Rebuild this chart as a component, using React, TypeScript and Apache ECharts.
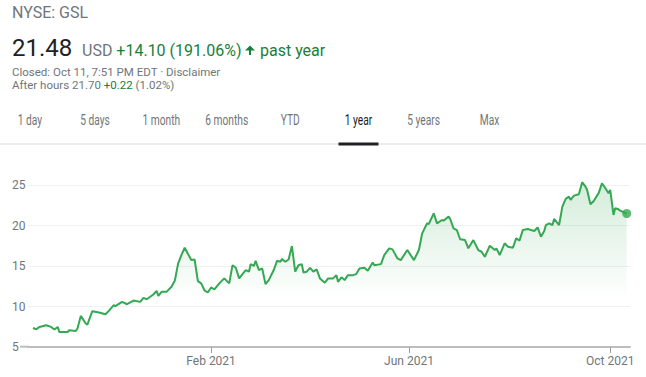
import React, { useEffect, useRef } from "react";
import * as echarts from "echarts";

const dates = [
  "2020-10-16", "2020-10-18", "2020-10-20", "2020-10-24", "2020-10-27", "2020-10-29", "2020-10-31",
  "2020-11-01", "2020-11-06", "2020-11-07", "2020-11-11", "2020-11-12", "2020-11-14", "2020-11-17",
  "2020-11-18", "2020-11-21", "2020-11-25", "2020-11-29", "2020-12-01", "2020-12-04", "2020-12-05",
  "2020-12-09", "2020-12-12", "2020-12-16", "2020-12-20", "2020-12-22", "2020-12-24", "2020-12-28",
  "2020-12-30", "2020-12-31", "2021-01-02", "2021-01-05", "2021-01-08", "2021-01-10", "2021-01-12",
  "2021-01-14", "2021-01-16", "2021-01-20", "2021-01-22", "2021-01-24", "2021-01-26", "2021-01-28",
  "2021-01-30", "2021-02-01", "2021-02-03", "2021-02-06", "2021-02-09", "2021-02-12", "2021-02-14",
  "2021-02-16", "2021-02-18", "2021-02-22", "2021-02-24", "2021-02-25", "2021-02-27", "2021-02-28",
  "2021-03-02", "2021-03-04", "2021-03-06", "2021-03-08", "2021-03-11", "2021-03-13", "2021-03-15",
  "2021-03-16", "2021-03-18", "2021-03-20", "2021-03-22", "2021-03-24", "2021-03-26", "2021-03-28",
  "2021-03-29", "2021-03-31", "2021-04-02", "2021-04-04", "2021-04-06", "2021-04-08", "2021-04-11",
  "2021-04-13", "2021-04-16", "2021-04-18", "2021-04-19", "2021-04-21", "2021-04-23", "2021-04-25",
  "2021-04-28", "2021-04-30", "2021-05-02", "2021-05-05", "2021-05-07", "2021-05-10", "2021-05-11",
  "2021-05-15", "2021-05-17", "2021-05-20", "2021-05-22", "2021-05-25", "2021-05-27", "2021-05-31",
  "2021-06-04", "2021-06-07", "2021-06-09", "2021-06-12", "2021-06-13", "2021-06-16", "2021-06-18",
  "2021-06-21", "2021-06-22", "2021-06-25", "2021-06-26", "2021-06-28", "2021-06-30", "2021-07-02",
  "2021-07-05", "2021-07-07", "2021-07-10", "2021-07-13", "2021-07-15", "2021-07-17", "2021-07-20",
  "2021-07-23", "2021-07-24", "2021-07-26", "2021-07-29", "2021-07-31", "2021-08-03", "2021-08-05",
  "2021-08-07", "2021-08-09", "2021-08-12", "2021-08-14", "2021-08-16", "2021-08-18", "2021-08-20",
  "2021-08-22", "2021-08-23", "2021-08-25", "2021-08-27", "2021-08-28", "2021-08-31", "2021-09-02",
  "2021-09-04", "2021-09-06", "2021-09-07", "2021-09-09", "2021-09-12", "2021-09-14", "2021-09-16",
  "2021-09-17", "2021-09-19", "2021-09-21", "2021-09-23", "2021-09-24", "2021-09-26", "2021-09-27",
  "2021-09-30", "2021-10-01", "2021-10-03", "2021-10-04", "2021-10-06", "2021-10-07", "2021-10-11",
];

const prices = [
  7.35, 7.19, 7.48, 7.69, 7.48, 7.15, 7.48,
  6.86, 6.86, 7.07, 6.98, 7.28, 8.84, 7.9,
  7.77, 9.42, 9.26, 9.05, 9.46, 10.16, 10.04,
  10.57, 10.28, 10.74, 10.57, 11.06, 10.9, 11.48,
  11.93, 11.31, 11.81, 11.81, 12.43, 13.17, 15.3,
  16.35, 17.25, 15.73, 15.8, 13.13, 12.85, 12.0,
  11.73, 12.35, 12.1, 12.85, 13.47, 12.85, 15.1,
  14.78, 13.47, 14.5, 14.3, 15.23, 15.0, 15.64,
  14.5, 14.7, 12.76, 13.26, 14.5, 15.64, 15.52,
  15.85, 15.52, 15.8, 17.46, 14.3, 15.1, 15.23,
  14.2, 14.3, 14.78, 14.3, 14.58, 13.47, 12.93,
  13.47, 13.47, 13.87, 13.05, 13.6, 13.26, 13.87,
  13.87, 14.0, 14.7, 14.78, 14.4, 15.44, 15.1,
  15.23, 16.35, 17.18, 17.05, 15.93, 15.73, 16.97,
  15.73, 16.97, 19.03, 20.27, 20.19, 21.5, 20.27,
  20.68, 20.6, 21.1, 20.8, 19.65, 19.44, 18.3,
  18.2, 17.18, 18.2, 16.97, 16.76, 16.14, 17.5,
  16.97, 17.18, 16.35, 17.8, 17.38, 17.26, 18.42,
  18.13, 19.44, 19.57, 19.44, 19.32, 19.77, 18.61,
  19.32, 20.06, 20.27, 20.06, 20.81, 20.06, 22.33,
  23.28, 23.56, 23.16, 23.69, 23.86, 25.35, 24.8,
  24.39, 22.62, 23.03, 23.69, 23.99, 25.22, 24.93,
  23.99, 24.39, 21.3, 22.13, 22.0, 21.83, 21.48,
];

const xTickDates = ["2021-02-01", "2021-06-01", "2021-10-01"];
const yTicks = [5, 10, 15, 20, 25];
const xRange = ["2020-10-13", "2021-10-13"];
const tabs = ["1 day", "5 days", "1 month", "6 months", "YTD", "1 year", "5 years", "Max"];
const tabCenters = [29.8, 95, 161.3, 226.7, 290.2, 358.5, 423.7, 489.5];
const monthNames = ["Jan", "Feb", "Mar", "Apr", "May", "Jun", "Jul", "Aug", "Sep", "Oct", "Nov", "Dec"];

const toTs = (s: string) => new Date(s + "T00:00:00").getTime();

const GREEN_LINE = "#34a853";
const GREEN_TEXT = "#188038";
const GREY = "#70757a";
const DARK = "#202124";

export default function App() {
  const ref = useRef<HTMLDivElement>(null);
  useEffect(() => {
    if (!ref.current) return;
    const chart = echarts.init(ref.current, null, { renderer: "svg" });
    const seriesData = dates.map((d, i) => [toTs(d), prices[i]]);
    const last = seriesData[seriesData.length - 1];
    const tickTs = xTickDates.map(toTs);

    const tabEls = tabs.map((t, i) => ({
      type: "text",
      x: tabCenters[i],
      y: 120.5,
      scaleX: 0.73,
      style: {
        text: t,
        font: "14px Roboto",
        fill: t === "1 year" ? DARK : GREY,
        align: "center",
        verticalAlign: "middle",
      },
    }));

    chart.setOption({
      animation: false,
      backgroundColor: "#ffffff",
      grid: { left: 28, right: 16, top: 185, bottom: 30, containLabel: false },
      xAxis: {
        type: "value",
        min: toTs(xRange[0]),
        max: toTs(xRange[1]),
        axisLine: { show: true, lineStyle: { color: "#bdbdbd", width: 2 } },
        axisTick: {
          show: true,
          customValues: tickTs,
          length: 6,
          lineStyle: { color: "#9e9e9e", width: 1 },
        },
        axisLabel: {
          show: true,
          customValues: tickTs,
          margin: 8,
          color: GREY,
          fontFamily: "Roboto",
          fontSize: 12,
          hideOverlap: false,
          formatter: (v: number) => {
            const d = new Date(v);
            return `${monthNames[d.getMonth()]} ${d.getFullYear()}`;
          },
        },
        splitLine: { show: false },
      },
      yAxis: {
        type: "value",
        min: yTicks[0],
        max: yTicks[yTicks.length - 1],
        interval: 5,
        axisLine: { show: false },
        axisTick: { show: false },
        axisLabel: {
          align: "left",
          margin: 16,
          color: GREY,
          fontFamily: "Roboto",
          fontSize: 12,
        },
        splitLine: { show: true, lineStyle: { color: "#f0f0f0", width: 1 } },
      },
      series: [
        {
          type: "line",
          data: seriesData,
          showSymbol: false,
          symbol: "none",
          clip: false,
          lineStyle: { color: GREEN_LINE, width: 2 },
          areaStyle: {
            color: new echarts.graphic.LinearGradient(0, 0, 0, 1, [
              { offset: 0, color: "rgba(52,168,83,0.30)" },
              { offset: 0.72, color: "rgba(52,168,83,0)" },
              { offset: 1, color: "rgba(52,168,83,0)" },
            ]),
          },
          z: 3,
        },
        {
          type: "scatter",
          data: [last],
          symbol: "circle",
          symbolSize: 9,
          clip: false,
          itemStyle: { color: GREEN_LINE },
          z: 4,
        },
      ],
      graphic: [
        {
          type: "text",
          x: 12,
          y: 12.5,
          style: { text: "NYSE: GSL", font: "16px Roboto", fill: GREY, align: "left", verticalAlign: "middle" },
        },
        {
          type: "text",
          x: 12,
          y: 48,
          style: { text: "21.48", font: "24px Roboto", fill: DARK, align: "left", verticalAlign: "middle" },
        },
        {
          type: "text",
          x: 82,
          y: 50,
          style: {
            text: "USD {g|+14.10 (191.06%)}",
            font: "16px Roboto",
            fill: GREY,
            align: "left",
            verticalAlign: "middle",
            rich: { g: { fill: GREEN_TEXT, font: "16px Roboto" } },
          },
        },
        {
          type: "polygon",
          shape: {
            points: [
              [250, 45.5], [255, 50.5], [251, 50.5], [251, 55], [249, 55], [249, 50.5], [245, 50.5],
            ],
          },
          style: { fill: GREEN_TEXT },
        },
        {
          type: "text",
          x: 260,
          y: 50,
          style: { text: "past year", font: "16px Roboto", fill: GREEN_TEXT, align: "left", verticalAlign: "middle" },
        },
        {
          type: "text",
          x: 12,
          y: 71.8,
          style: {
            text: "Closed: Oct 11, 7:51 PM EDT · Disclaimer",
            font: "11.5px Roboto",
            fill: GREY,
            align: "left",
            verticalAlign: "middle",
          },
        },
        {
          type: "text",
          x: 12,
          y: 85.4,
          style: {
            text: "After hours 21.70 {g|+0.22} (1.02%)",
            font: "11.5px Roboto",
            fill: GREY,
            align: "left",
            verticalAlign: "middle",
            rich: { g: { fill: GREEN_TEXT, font: "11.5px Roboto" } },
          },
        },
        ...tabEls,
        {
          type: "rect",
          shape: { x: 0, y: 143.5, width: 646, height: 1 },
          style: { fill: "#dadce0" },
        },
        {
          type: "rect",
          shape: { x: 338.5, y: 142.5, width: 40, height: 3 },
          style: { fill: DARK },
        },
        {
          type: "rect",
          shape: { x: 20, y: 345.7, width: 9, height: 2 },
          style: { fill: "#bdbdbd" },
        },
      ],
    });
    return () => chart.dispose();
  }, []);
  return (
    <div
      ref={ref}
      style={{ position: "absolute", left: 0, top: 0, width: 646, height: 377, background: "#fff" }}
    />
  );
}
